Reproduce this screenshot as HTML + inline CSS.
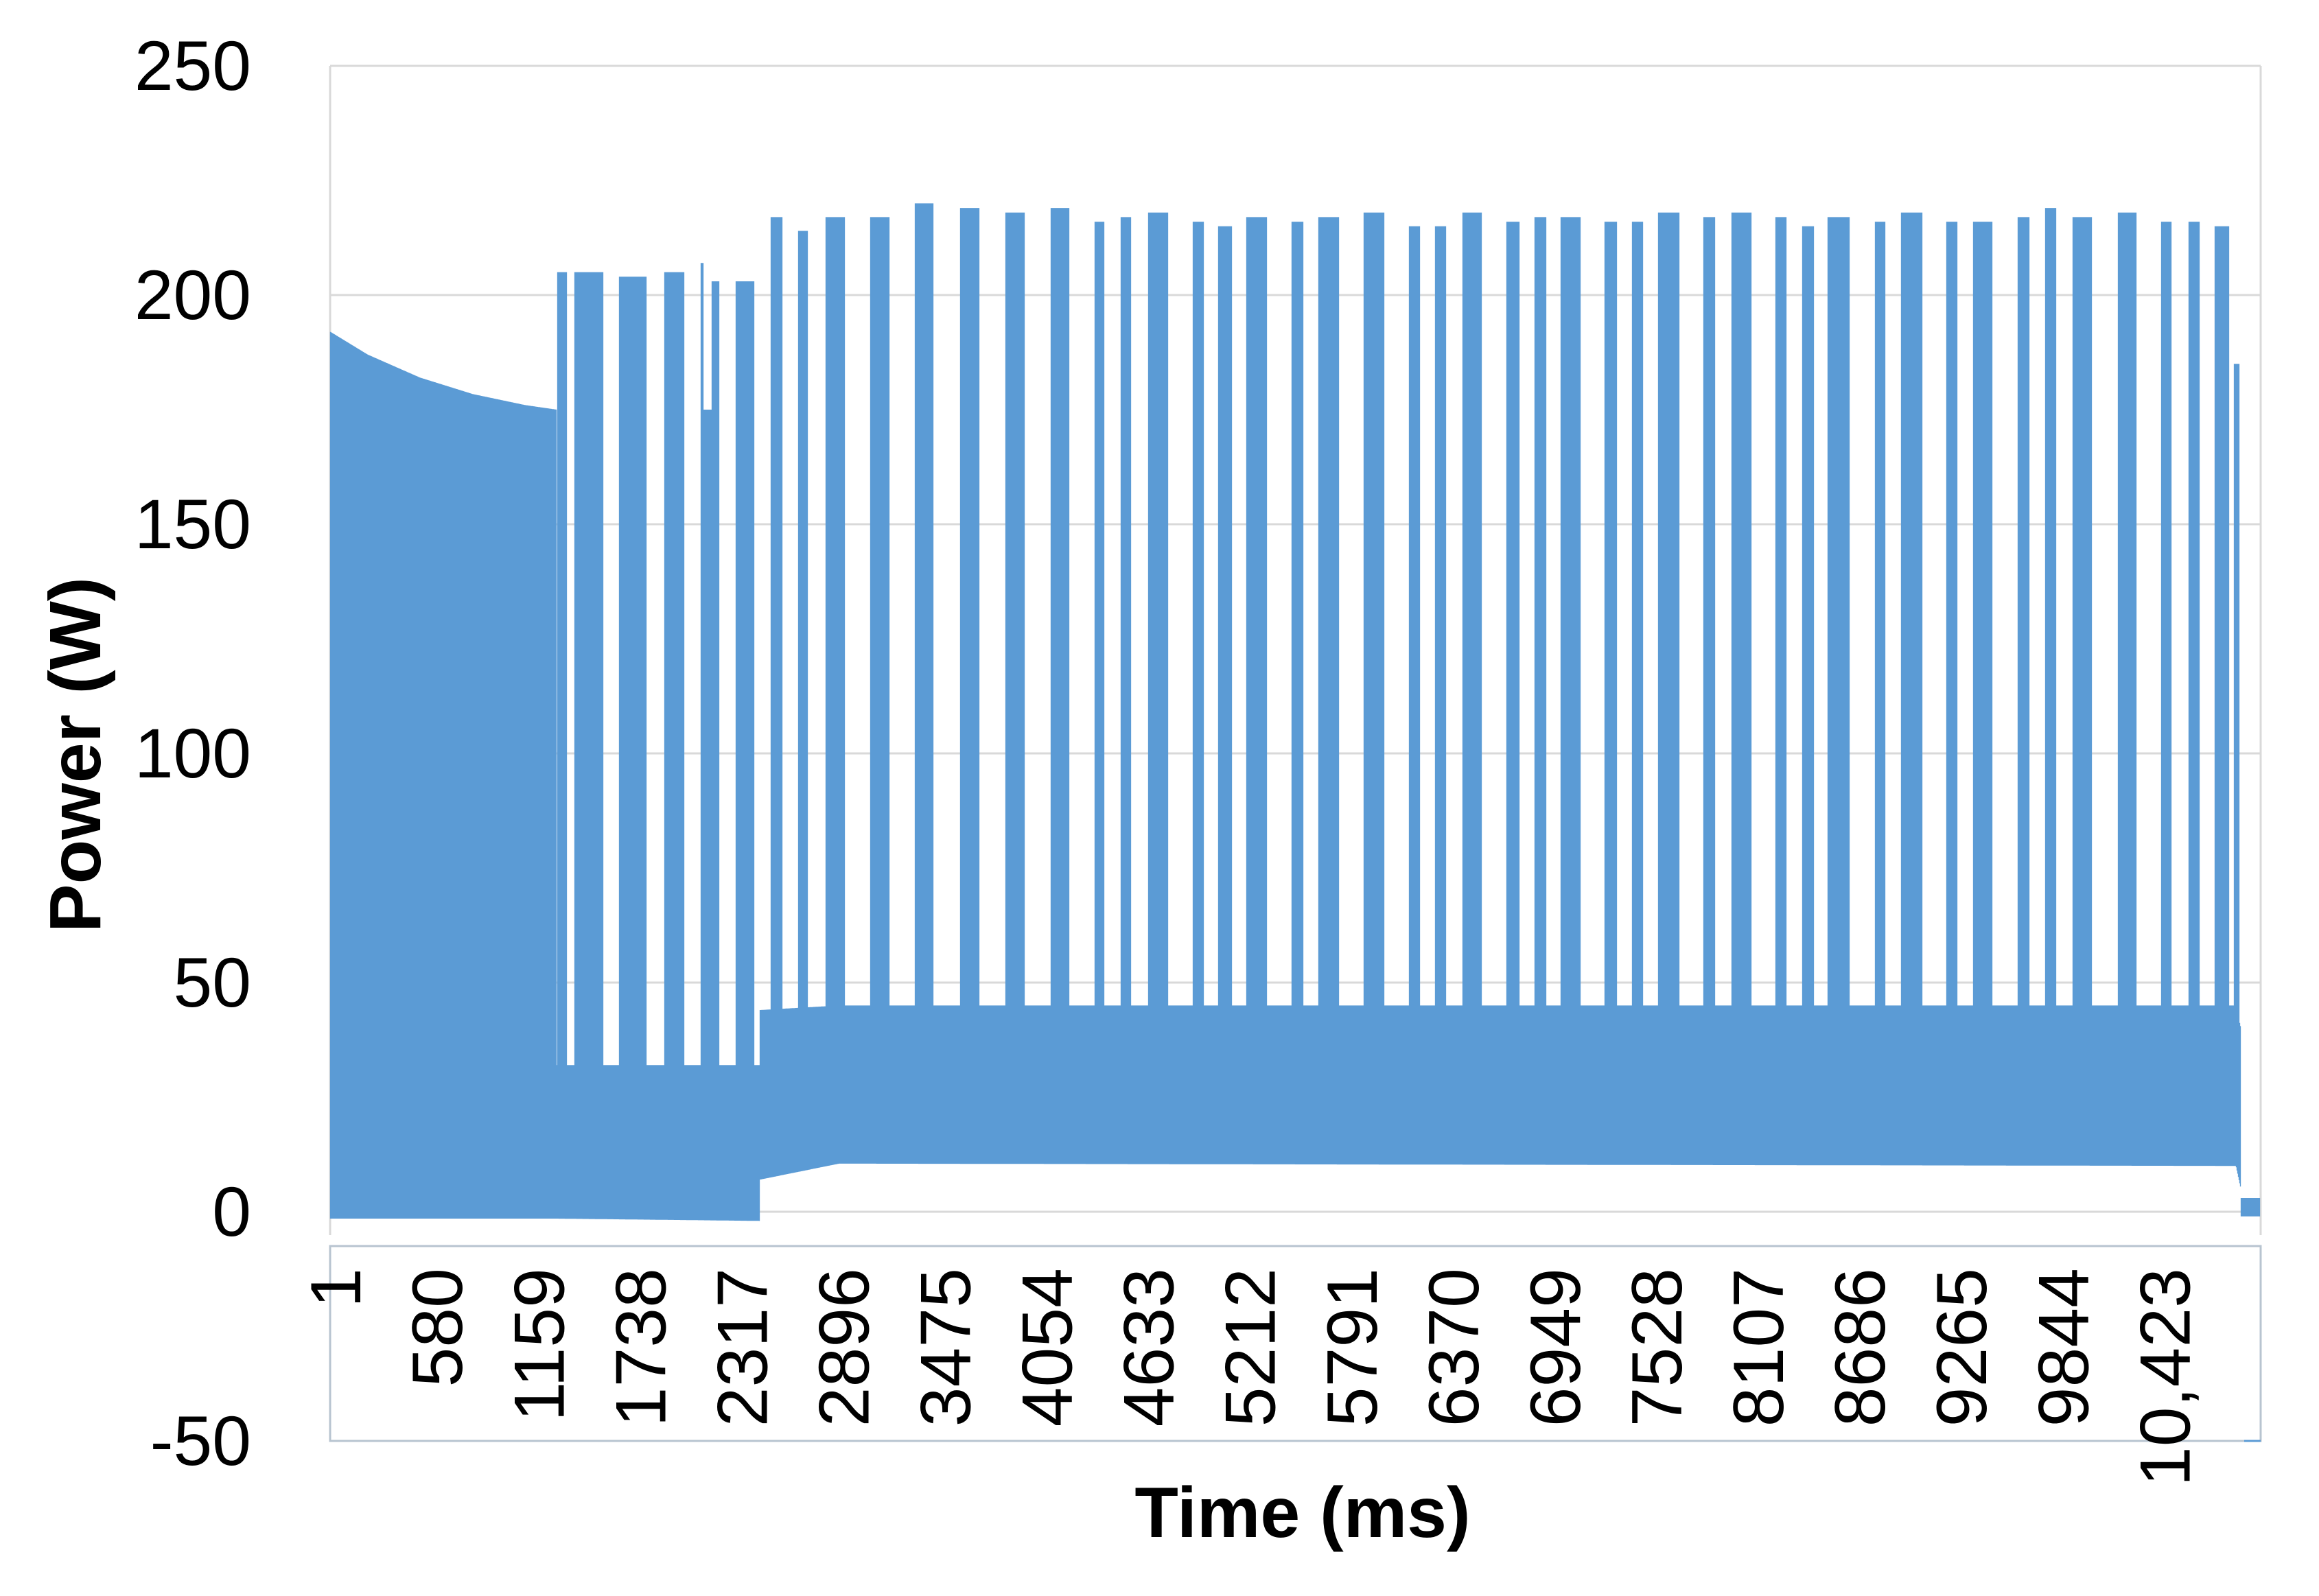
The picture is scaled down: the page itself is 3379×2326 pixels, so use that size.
<!DOCTYPE html>
<html><head><meta charset="utf-8">
<style>
html,body{margin:0;padding:0;background:#fff;}
svg{display:block;font-family:"Liberation Sans",sans-serif;}
</style></head>
<body>
<svg id="chart" width="3379" height="2326" viewBox="0 0 3379 2326" xmlns="http://www.w3.org/2000/svg">
<rect x="0" y="0" width="3379" height="2326" fill="#ffffff"/>
<g id="grid"></g>
<g id="series"></g>
<g id="yticks"></g>
<rect x="481" y="1816" width="2813" height="284" fill="none" stroke="#b8c4d0" stroke-width="3"/>
<line x1="3270" y1="2100" x2="3294" y2="2100" stroke="#5b9bd5" stroke-width="3"/>
<g id="xticks"></g>
<text x="110" y="1100" transform="rotate(-90 110 1100)" text-anchor="middle" dominant-baseline="central" font-size="106" font-weight="bold" fill="#000">Power (W)</text>
<text x="1898" y="2205" text-anchor="middle" dominant-baseline="central" font-size="104" font-weight="bold" fill="#000">Time (ms)</text>
</svg>
<script>
const yTicks = [-50, 0, 50, 100, 150, 200, 250];
const xTickLabels = ["1","580","1159","1738","2317","2896","3475","4054","4633","5212","5791","6370","6949","7528","8107","8686","9265","9844","10,423"];
const xTickIndex = [1,580,1159,1738,2317,2896,3475,4054,4633,5212,5791,6370,6949,7528,8107,8686,9265,9844,10423];
const sampleCount = 11000;
const bandTime = [1, 215, 512, 813, 1111, 1291, 1292, 2447, 2448, 2900, 10860, 10888, 10889, 10995];
const bandHigh = [192, 187, 182, 178.4, 176, 175, 32, 32, 44, 45, 45, 40, 3, 3];
const bandLow  = [-1.5, -1.5, -1.5, -1.5, -1.5, -1.5, -1.5, -2, 7, 10.5, 10, 5, -1, -1];
const pulseStart = [1295,1393,1650,1905,2113,2127,2175,2315,
 2514,2668,2824,3078,3336,3591,3849,4107,4357,4509,4663,4916,5064,5222,5479,5632,5890,6148,6297,6453,6704,6864,7013,7263,7419,7568,7826,7987,8237,8390,8534,8804,8953,9211,9364,9617,9773,9931,10189,10435,10591,10740,10850];
const pulseEnd = [1349,1553,1803,2015,2127,2175,2217,2417,
 2574,2722,2933,3184,3434,3696,3955,4212,4408,4561,4772,4975,5136,5335,5543,5746,6004,6207,6355,6559,6774,6926,7123,7329,7478,7686,7889,8097,8295,8452,8656,8859,9070,9270,9469,9680,9833,10036,10290,10490,10650,10818,10877];
const pulsePeak = [205,205,204,205,207,175,203,203,
 217,214,217,217,220,219,218,219,216,217,218,216,215,217,216,217,218,215,215,218,216,217,217,216,216,218,217,218,217,215,217,216,218,216,216,217,219,217,218,216,216,215,185];

const PL = 481, PR = 3294, PT = 96;
const Y0 = 1766, PX_PER_UNIT = 334/50;
const w = (PR - PL) / sampleCount;
function xScale(i){ return PL + (i - 0.5) * w; }
function yScale(v){ return Y0 - v * PX_PER_UNIT; }
function interp(arr, t){
  if (t <= bandTime[0]) return arr[0];
  for (let k = 0; k < bandTime.length - 1; k++){
    if (t >= bandTime[k] && t <= bandTime[k+1]){
      const f = (t - bandTime[k]) / Math.max(1e-9, bandTime[k+1] - bandTime[k]);
      return arr[k] + f * (arr[k+1] - arr[k]);
    }
  }
  return null;
}
const NS = "http://www.w3.org/2000/svg";
const grid = document.getElementById('grid');
yTicks.forEach(v => {
  if (v < 0) return;
  const l = document.createElementNS(NS, 'line');
  l.setAttribute('x1', PL); l.setAttribute('x2', PR);
  l.setAttribute('y1', yScale(v)); l.setAttribute('y2', yScale(v));
  l.setAttribute('stroke', '#d9d9d9'); l.setAttribute('stroke-width', 3);
  
  
  grid.appendChild(l);
});
['L','R'].forEach(s => {
  const l = document.createElementNS(NS, 'line');
  const x = s === 'L' ? PL : PR;
  l.setAttribute('x1', x); l.setAttribute('x2', x);
  l.setAttribute('y1', PT); l.setAttribute('y2', 1800);
  l.setAttribute('stroke', '#d9d9d9'); l.setAttribute('stroke-width', 3);
  
  
  grid.appendChild(l);
});
let d = '';
for (let px = PL; px < PR; px++){
  const i0 = (px - PL) / w + 0.5, i1 = (px + 1 - PL) / w + 0.5;
  const mid = (i0 + i1) / 2;
  if (mid > bandTime[bandTime.length - 1]) break;
  let hi = interp(bandHigh, mid), lo = interp(bandLow, mid);
  if (hi === null) continue;
  for (let p = 0; p < pulseStart.length; p++){
    if (pulseEnd[p] >= i0 && pulseStart[p] <= i1){
      hi = Math.max(hi, pulsePeak[p]);
    }
  }
  d += 'M' + (px + 0.5) + ' ' + yScale(hi).toFixed(1) + 'V' + yScale(lo).toFixed(1);
}
const path = document.createElementNS(NS, 'path');
path.setAttribute('d', d);
path.setAttribute('stroke', '#5b9bd5');
path.setAttribute('stroke-width', 1.3);
path.setAttribute('fill', 'none');


document.getElementById('series').appendChild(path);
const yt = document.getElementById('yticks');
yTicks.forEach(v => {
  const t = document.createElementNS(NS, 'text');
  t.setAttribute('x', 366); t.setAttribute('y', yScale(v));
  t.setAttribute('text-anchor', 'end'); t.setAttribute('dominant-baseline', 'central');
  t.setAttribute('font-size', 102); t.setAttribute('fill', '#000');
  t.textContent = String(v);
  
  
  yt.appendChild(t);
});
const xt = document.getElementById('xticks');
xTickLabels.forEach((lab, k) => {
  const x = xScale(xTickIndex[k]) + 9, y = 1848;
  const t = document.createElementNS(NS, 'text');
  t.setAttribute('x', x); t.setAttribute('y', y);
  t.setAttribute('transform', 'rotate(-90 ' + x + ' ' + y + ')');
  t.setAttribute('text-anchor', 'end'); t.setAttribute('dominant-baseline', 'central');
  t.setAttribute('font-size', 104); t.setAttribute('fill', '#000');
  t.textContent = lab;
  
  
  xt.appendChild(t);
});
</script>
</body></html>
